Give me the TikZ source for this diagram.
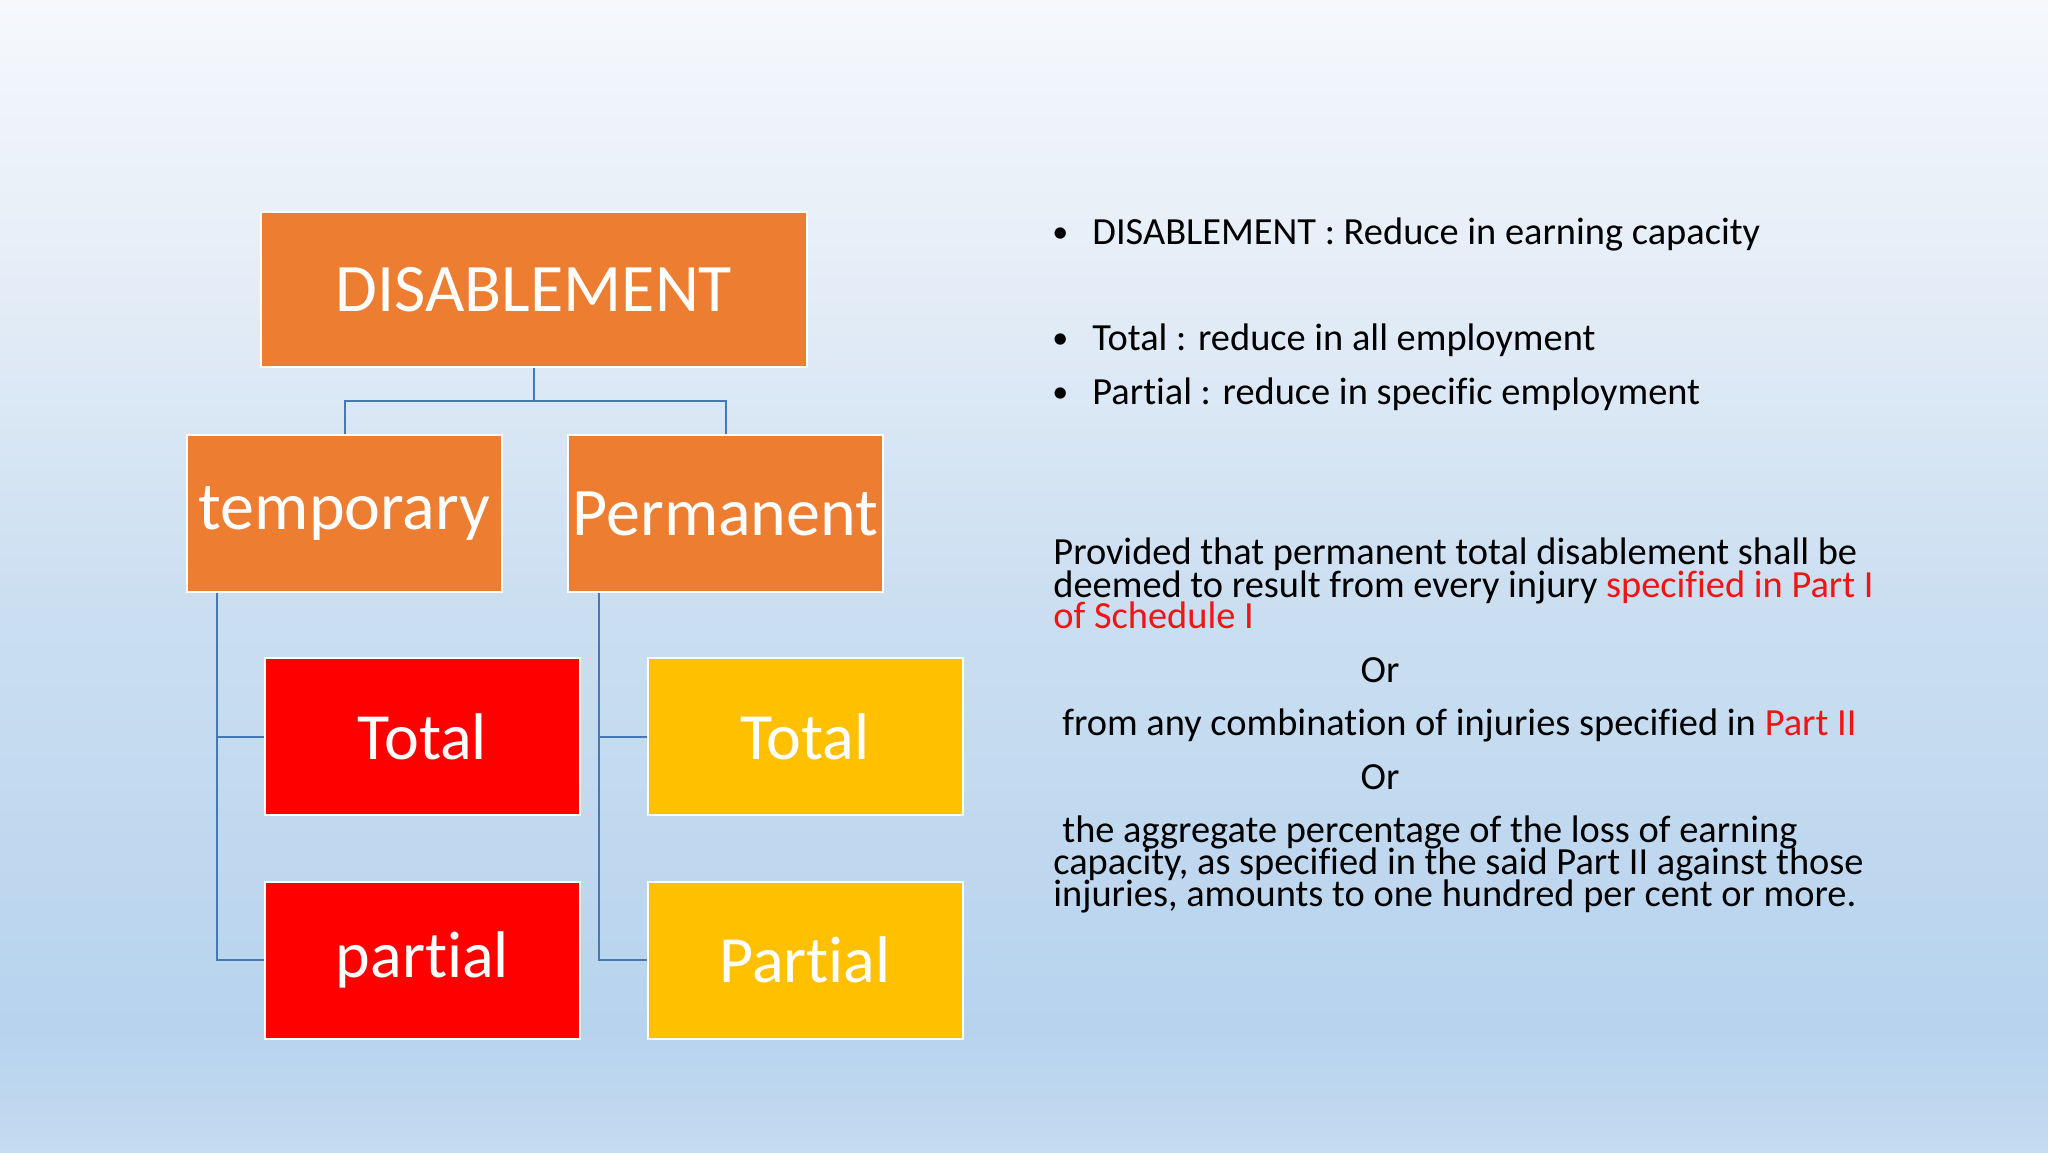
\documentclass[tikz,border=0pt]{standalone}
\usepackage{fontspec}
\setmainfont[Ligatures=CommonOff]{Carlito}
\definecolor{bgA}{RGB}{246,248,252}
\definecolor{bgB}{RGB}{228,237,247}
\definecolor{bgC}{RGB}{204,223,241}
\definecolor{bgD}{RGB}{183,211,238}
\definecolor{bgE}{RGB}{196,219,240}
\definecolor{orng}{RGB}{237,125,49}
\definecolor{rd}{RGB}{255,0,0}
\definecolor{yel}{RGB}{255,192,0}
\definecolor{conn}{RGB}{70,120,180}
\definecolor{redtxt}{RGB}{240,20,20}
\pgfdeclareverticalshading{bgshade}{100bp}{color(0bp)=(bgE); color(25bp)=(bgE); color(30.3bp)=(bgD); color(49.4bp)=(bgC); color(62.8bp)=(bgB); color(75bp)=(bgA); color(100bp)=(bgA)}
\tikzset{
  box/.style={rectangle, draw=white, line width=1pt, inner sep=0pt, text=white,
    minimum width=157.5pt, minimum height=78.5pt, font=\fontsize{33}{38}\selectfont},
  link/.style={draw=conn, line width=1pt},
  txt/.style={anchor=base west, inner sep=0pt, font=\fontsize{19.2}{22}\selectfont},
  btxt/.style={anchor=base west, inner sep=0pt, font=\fontsize{19.2}{22}\selectfont},
  bdot/.style={anchor=base west, inner sep=0pt, font=\fontsize{16}{20}\selectfont}
}
\begin{document}
\begin{tikzpicture}[x=0.5pt,y=-0.5pt]
\shade[shading=bgshade] (0,0) rectangle (2048,1152);
\useasboundingbox (0,0) rectangle (2048,1152);
% boxes
\node[box, fill=orng, minimum width=273pt, minimum height=77.5pt, font=\fontsize{34}{40}\selectfont] (dis) at (534,289.5) {DISABLEMENT};
\node[box, fill=orng, font=\fontsize{34}{40}\selectfont] (temp) at (344.5,513.5) {temporary};
\node[box, fill=orng, font=\fontsize{34}{40}\selectfont] (perm) at (725.5,513.5) {Permanent};
\node[box, fill=rd] (rt) at (422.5,736.5) {Total};
\node[box, fill=rd] (rp) at (422.5,960) {partial};
\node[box, fill=yel] (yt) at (805,736.5) {Total};
\node[box, fill=yel] (yp) at (805,960) {Partial};
% connectors
\draw[link] (dis.south) -- ++(0,33) -| (temp.north);
\draw[link] (dis.south) -- ++(0,33) -| (perm.north);
\draw[link] ([xshift=15.5pt]temp.south west) |- (rt.west);
\draw[link] ([xshift=15.5pt]temp.south west) |- (rp.west);
\draw[link] ([xshift=16pt]perm.south west) |- (yt.west);
\draw[link] ([xshift=16pt]perm.south west) |- (yp.west);
% bullets
\node[bdot] (b1d) at (1052,242) {•};
\node[btxt] (b1) at (1092,244) {DISABLEMENT : Reduce in earning capacity};
\node[bdot] (b2d) at (1052,348) {•};
\node[btxt] (b2) at (1092,350) {Total : reduce in all employment};
\node[bdot] (b3d) at (1052,402) {•};
\node[btxt] (b3) at (1092,404) {Partial : reduce in specific employment};
% paragraph
\node[txt] (p1) at (1053,564) {Provided that permanent total disablement shall be};
\node[txt] (p2) at (1053,597) {deemed to result from every injury \textcolor{redtxt}{specified in Part I}};
\node[txt] (p3) at (1053,628) {\textcolor{redtxt}{of Schedule I}};
\node[txt, anchor=base] (or1) at (1380,682) {Or};
\node[txt] (p4) at (1062,735) {from any combination of injuries specified in \textcolor{redtxt}{Part II}};
\node[txt, anchor=base] (or2) at (1380,789) {Or};
\node[txt] (p5) at (1062,842) {the aggregate percentage of the loss of earning};
\node[txt] (p6) at (1053,874) {capacity, as specified in the said Part II against those};
\node[txt] (p7) at (1053,906) {injuries, amounts to one hundred per cent or more.};
\end{tikzpicture}
\end{document}
